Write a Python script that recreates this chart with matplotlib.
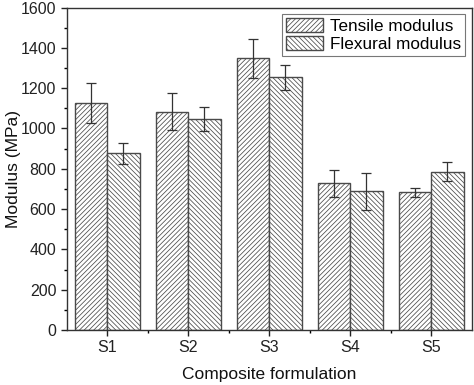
import matplotlib
matplotlib.use("Agg")
import numpy as np
import matplotlib.pyplot as plt
from matplotlib.ticker import MultipleLocator, FixedLocator

plt.rcParams["font.family"] = ["Liberation Sans", "DejaVu Sans"]
plt.rcParams["hatch.linewidth"] = 0.55
plt.rcParams["hatch.color"] = "#999999"

# data
samples = ["S1", "S2", "S3", "S4", "S5"]
tensile = [1125, 1083, 1348, 728, 683]
tensile_err = [100, 93, 98, 67, 22]
flexural = [877, 1045, 1253, 688, 785]
flexural_err = [53, 60, 64, 93, 48]

EDGE = "#4A4A4A"

fig = plt.figure(figsize=(4.74, 3.85), dpi=100)
ax = fig.add_axes([66.7 / 474, 1 - 330 / 385, 405 / 474, 322.5 / 385])

x = np.arange(1, len(samples) + 1)
w = 0.4
ek = dict(ecolor="#333333", elinewidth=0.9, capsize=3.5, capthick=0.9)
ax.bar(x - w / 2, tensile, w, yerr=tensile_err, color="white", edgecolor=EDGE,
       lw=1.0, hatch="///////", label="Tensile modulus", error_kw=ek, zorder=2)
ax.bar(x + w / 2, flexural, w, yerr=flexural_err, color="white", edgecolor=EDGE,
       lw=1.0, hatch="\\\\\\\\\\\\\\", label="Flexural modulus", error_kw=ek, zorder=2)

ax.set_xlim(0.5, 5.5)
ax.set_ylim(0, 1600)
ax.set_xticks(x)
ax.set_xticklabels(samples)
ax.xaxis.set_minor_locator(FixedLocator(x[:-1] + 0.5))
ax.yaxis.set_major_locator(MultipleLocator(200))
ax.yaxis.set_minor_locator(MultipleLocator(100))
ax.tick_params(axis="both", which="major", direction="out", length=4, width=1.0,
               labelsize=11.5, colors="#222222")
ax.tick_params(axis="both", which="minor", direction="out", length=2.5, width=1.0)
for s in ax.spines.values():
    s.set_color("#333333"); s.set_linewidth(1.0)

ax.set_xlabel("Composite formulation", fontsize=12.5, color="#111111", labelpad=8)
ax.set_ylabel("Modulus (MPa)", fontsize=12.5, color="#111111", labelpad=0)

leg = ax.legend(loc="upper right", fontsize=12.3, frameon=True, fancybox=False,
                edgecolor="#555555", borderpad=0.2, handlelength=2.2, handleheight=0.9,
                handletextpad=0.4, labelspacing=0.15, borderaxespad=0.4)
leg.get_frame().set_linewidth(0.8)

fig.savefig("out.png", dpi=100, facecolor="white")
